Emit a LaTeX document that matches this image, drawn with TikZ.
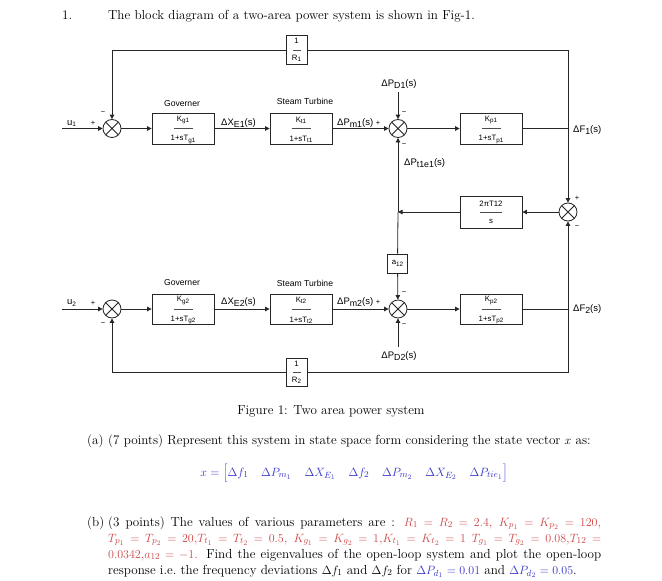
\documentclass[tikz,border=0pt]{standalone}
\usepackage{fontspec}
\newfontfamily\arial{Liberation Sans}
\usetikzlibrary{arrows.meta,calc}
\definecolor{qblue}{RGB}{55,55,200}
\definecolor{qred}{RGB}{205,70,70}
\newcommand\bsub[1]{\raisebox{-1.3pt}{\fontsize{6.3}{7}\selectfont #1}}
\newcommand\lsub[1]{\raisebox{-2pt}{\fontsize{8.8}{9}\selectfont #1}}
\newcommand\usub[1]{\raisebox{-1.6pt}{\fontsize{6.5}{7}\selectfont #1}}
\newcommand\tfin[4]{%
  \node[tftxt] (#1n) at ([yshift=8.5pt]#1.center) {#2};
  \draw[fl] ([xshift=-#4]#1.center) -- ([xshift=#4]#1.center);
  \node[tftxt] (#1d) at ([yshift=-11pt]#1.center) {#3};}
\tikzset{
  ln/.style={line width=0.8pt, draw=black!85},
  arr/.style={ln, -{Triangle[length=4.5pt,width=4.5pt]}},
  fl/.style={line width=0.5pt, draw=black!70},
  blk/.style={draw=black!85, line width=0.8pt, inner sep=0pt, minimum width=62pt, minimum height=31pt},
  sumj/.style={circle, draw=black!85, line width=0.8pt, minimum size=18pt, inner sep=0pt,
    path picture={\draw[line width=0.8pt,black!85] (path picture bounding box.north west) -- (path picture bounding box.south east)
      (path picture bounding box.north east) -- (path picture bounding box.south west);}},
  labtxt/.style={font=\arial\fontsize{9.5}{11}\selectfont, inner sep=0pt, anchor=base west},
  captxt/.style={font=\arial\fontsize{8.6}{10}\selectfont, inner sep=0pt},
  tftxt/.style={font=\arial\fontsize{7.8}{8}\selectfont, inner sep=0pt},
  sgn/.style={font=\arial\fontsize{7.5}{8}\selectfont, inner sep=0pt},
  body/.style={font=\fontsize{13.1}{15}\selectfont, inner sep=0pt, anchor=base west},
}
\begin{document}
\begin{tikzpicture}[x=1pt,y=-1pt]
\path[fill=white] (0,0) rectangle (662,581);
\useasboundingbox (0,0) rectangle (662,581);

% ---------- header ----------
\node[body] (n1) at (62,19) {1.};
\node[body] (hdr) at (108,19) {The block diagram of a two-area power system is shown in Fig-1.};

% ---------- row 1 ----------
\coordinate (u1) at (62,128.5);
\node[sumj] (s1) at (112,128.5) {};
\node[blk] (g1) at (183,128.5) {};
\node[blk] (t1) at (301,128.5) {};
\node[sumj] (s2) at (398,128.5) {};
\node[blk] (p1) at (491,128.5) {};
\coordinate (f1) at (568,128.5);
\coordinate (tl) at (112,50);
\coordinate (tr) at (568,50);
\node[blk, minimum width=21pt, minimum height=29pt] (r1) at (296.5,50) {};
\coordinate (pd1) at (398,92);

\tfin{g1}{K\bsub{g1}}{1+sT\bsub{g1}}{9.5pt}
\tfin{t1}{K\bsub{t1}}{1+sT\bsub{t1}}{9.5pt}
\tfin{p1}{K\bsub{p1}}{1+sT\bsub{p1}}{9.5pt}
\node[tftxt] (r1n) at ([yshift=9pt]r1.center) {1};
\draw[fl] ([xshift=-4pt]r1.center) -- ([xshift=4pt]r1.center);
\node[tftxt] (r1d) at ([yshift=-8pt]r1.center) {R\bsub{1}};

% ---------- middle ----------
\node[sumj] (s3) at (568,212) {};
\node[blk, minimum height=32pt] (tie) at (491,212) {};
\coordinate (tj) at (398,212);
\node[blk, minimum width=20pt, minimum height=19pt] (a12) at (397.5,263.5) {};
\node[tftxt] (a12t) at (a12.center) {a\bsub{12}};
\node[tftxt] (tien) at ([yshift=8.5pt]tie.center) {2πT12};
\draw[fl] ([xshift=-11pt]tie.center) -- ([xshift=11pt]tie.center);
\node[tftxt] (tied) at ([yshift=-9.5pt]tie.center) {s};

% ---------- row 2 ----------
\coordinate (u2) at (62,309);
\node[sumj] (s4) at (112,309) {};
\node[blk, minimum height=30pt] (g2) at (183,309) {};
\node[blk, minimum height=30pt] (t2) at (301,309) {};
\node[sumj] (s5) at (398,309) {};
\node[blk, minimum height=30pt] (p2) at (491,309) {};
\coordinate (f2) at (568,309);
\coordinate (bl) at (112,372.5);
\coordinate (br) at (568,372.5);
\node[blk, minimum width=21pt, minimum height=28pt] (r2) at (296.5,372.5) {};
\coordinate (pd2) at (398,347);

\tfin{g2}{K\bsub{g2}}{1+sT\bsub{g2}}{9.5pt}
\tfin{t2}{K\bsub{t2}}{1+sT\bsub{t2}}{9.5pt}
\tfin{p2}{K\bsub{p2}}{1+sT\bsub{p2}}{9.5pt}
\node[tftxt] (r2n) at ([yshift=9pt]r2.center) {1};
\draw[fl] ([xshift=-4pt]r2.center) -- ([xshift=4pt]r2.center);
\node[tftxt] (r2d) at ([yshift=-8pt]r2.center) {R\bsub{2}};

% ---------- connectors ----------
\draw[arr] (u1) -- (s1);
\draw[arr] (s1) -- (g1);
\draw[arr] (g1) -- (t1);
\draw[arr] (t1) -- (s2);
\draw[arr] (pd1) -- (s2);
\draw[arr] (s2) -- (p1);
\draw[ln] (p1) -- (f1);
\draw[arr] (tr) -- (s3);
\draw[ln] (tr) -- (r1);
\draw[arr] (r1) -- (tl) -- (s1);

\draw[arr] (s3) -- (tie);
\draw[arr] (tie) -- (tj);
\draw[arr] (tj) -- (s2);
\draw[ln] (tj) -- (a12);
\draw[arr] (a12) -- (s5);

\draw[arr] (u2) -- (s4);
\draw[arr] (s4) -- (g2);
\draw[arr] (g2) -- (t2);
\draw[arr] (t2) -- (s5);
\draw[arr] (pd2) -- (s5);
\draw[arr] (s5) -- (p2);
\draw[ln] (p2) -- (f2) -- (br) -- (r2);
\draw[arr] (f2) -- (s3);
\draw[arr] (r2) -- (bl) -- (s4);

% ---------- labels ----------
\node[captxt] (gov1) at (182,104) {Governer};
\node[captxt] (st1) at (305,101.5) {Steam Turbine};
\node[captxt] (gov2) at (182,283) {Governer};
\node[captxt] (st2) at (305,283) {Steam Turbine};

\node[labtxt] (lu1) at (67,125) {u\usub{1}};
\node[labtxt] (lu2) at (67,304.5) {u\usub{2}};
\node[labtxt] (lxe1) at (221,125) {ΔX\lsub{E1}(s)};
\node[labtxt] (lxe2) at (221,304) {ΔX\lsub{E2}(s)};
\node[labtxt] (lpm1) at (337,125) {ΔP\lsub{m1}(s) \fontsize{7.5}{8}\selectfont +};
\node[labtxt] (lpm2) at (337,304.5) {ΔP\lsub{m2}(s) \fontsize{7.5}{8}\selectfont +};
\node[labtxt, anchor=base] (lpd1) at (399,86.5) {ΔP\lsub{D1}(s)};
\node[labtxt, anchor=base] (lpd2) at (399,358.5) {ΔP\lsub{D2}(s)};
\node[labtxt] (lpt) at (404,165.5) {ΔP\lsub{t1e1}(s)};
\node[labtxt] (lf1) at (573,132.5) {ΔF\lsub{1}(s)};
\node[labtxt] (lf2) at (573,311) {ΔF\lsub{2}(s)};

\node[sgn] (sg1) at (93,123) {+};
\node[sgn] (sg2) at (103,113) {−};
\node[sgn] (sg3) at (93,303) {+};
\node[sgn] (sg4) at (103,324) {−};
\node[sgn] (sg5) at (404,113) {−};
\node[sgn] (sg6) at (404,145) {−};
\node[sgn] (sg7) at (404,293) {−};
\node[sgn] (sg8) at (404,325) {−};
\node[sgn] (sg9) at (577,198) {+};
\node[sgn] (sg10) at (577,227) {−};

% ---------- text below ----------
\node[body, anchor=base] (figcap) at (331,414) {Figure 1: Two area power system};
\node[body] (qa) at (87,444) {(a)};
\node[body] (qa1) at (108,444) {(7 points) Represent this system in state space form considering the state vector $x$ as:};
\node[body, anchor=base, text=qblue] (xv) at (354,476) {$x=\Bigl[\Delta f_1\ \ \ \Delta P_{m_1}\ \ \ \Delta X_{E_1}\ \ \ \Delta f_2\ \ \ \Delta P_{m_2}\ \ \ \Delta X_{E_2}\ \ \ \Delta P_{tie_1}\Bigr]$};

\node[body] (qb) at (87,526) {(b)};
\node[body] (qb1) at (108,526) {\makebox[493pt][s]{(3 points) The values of various parameters are : \textcolor{qred}{$R_1 = R_2 = 2.4$, $K_{p_1} = K_{p_2} = 120$,}}};
\node[body, text=qred] (qb2) at (108,542) {\makebox[493pt][s]{$T_{p_1} = T_{p_2} = 20$,$T_{t_1} = T_{t_2} = 0.5$, $K_{g_1} = K_{g_2} = 1$,$K_{t_1} = K_{t_2} = 1$ $T_{g_1} = T_{g_2} = 0.08$,$T_{12} =$}};
\node[body] (qb3) at (108,558) {\makebox[493pt][s]{\textcolor{qred}{$0.0342$,$a_{12} = -1$.} Find the eigenvalues of the open-loop system and plot the open-loop}};
\node[body] (qb4) at (108,574) {response i.e.\ the frequency deviations $\Delta f_1$ and $\Delta f_2$ for \textcolor{qblue}{$\Delta P_{d_1} = 0.01$} and \textcolor{qblue}{$\Delta P_{d_2} = 0.05$}.};
\end{tikzpicture}
\end{document}
